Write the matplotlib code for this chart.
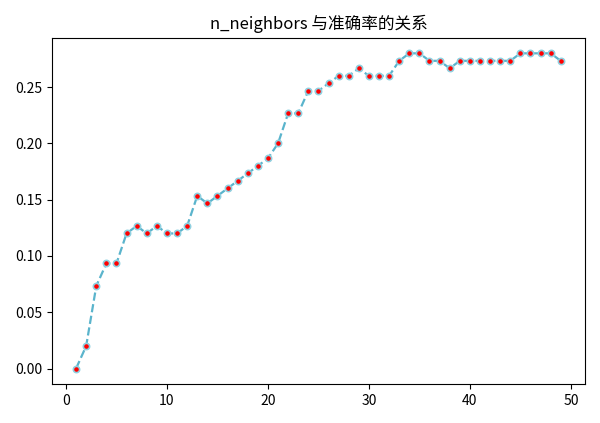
import matplotlib
matplotlib.use("Agg")
import matplotlib.pyplot as plt

plt.rcParams['font.family'] = ['Noto Sans CJK SC', 'DejaVu Sans']

k_range = list(range(1, 50))
counts = [0, 3, 11, 14, 14, 18, 19, 18, 19, 18,
          18, 19, 23, 22, 23, 24, 25, 26, 27, 28,
          30, 34, 34, 37, 37, 38, 39, 39, 40, 39,
          39, 39, 41, 42, 42, 41, 41, 40, 41, 41,
          41, 41, 41, 41, 42, 42, 42, 42, 41]
scores = [c / 150 for c in counts]

fig, ax = plt.subplots(figsize=(6, 4.23), dpi=100)
ax.plot(k_range, scores, linestyle="--", color="#5ab4cc", linewidth=1.6,
        marker="o", markersize=4.5, markerfacecolor="red",
        markeredgecolor="#8fd0e0", markeredgewidth=1.2)
ax.set_title("n_neighbors 与准确率的关系")
ax.set_xticks([0, 10, 20, 30, 40, 50])
ax.set_yticks([0.0, 0.05, 0.10, 0.15, 0.20, 0.25])
ax.set_yticklabels(["0.00", "0.05", "0.10", "0.15", "0.20", "0.25"])
plt.tight_layout()
plt.savefig("out.png", dpi=100)
